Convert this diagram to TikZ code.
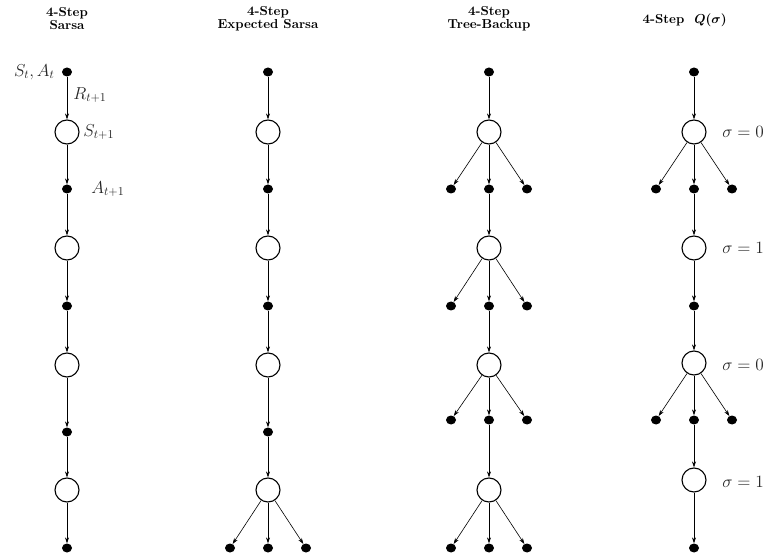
\documentclass[tikz,border=0pt]{standalone}
\usepackage{bm}
\usetikzlibrary{arrows.meta,shapes.geometric}
\begin{document}
\begin{tikzpicture}[x=1pt,y=-1pt,
  dotn/.style={ellipse,fill=black,minimum width=10pt,minimum height=9pt,inner sep=0pt},
  st/.style={circle,draw,line width=1.1pt,minimum size=24pt,inner sep=0pt},
  arr/.style={-{Stealth[length=6pt,width=4pt]},line width=0.6pt},
  ttl/.style={font=\bfseries,align=center,scale=1.3,transform shape},
  lab/.style={font=\Large,scale=1.2,transform shape,text=black!85,inner sep=1pt}]
\useasboundingbox (0,0) rectangle (780,556);
% titles
\node[ttl] (t1) at (67,19) {4-Step\\[-2pt]Sarsa};
\node[ttl] (t2) at (268,19) {4-Step\\[-2pt]Expected Sarsa};
\node[ttl] (t3) at (489,19) {4-Step\\[-2pt]Tree-Backup};
\node[ttl,anchor=west] (t4) at (638,20) {4-Step\ \ $\bm{Q(\sigma)}$};
% columns 1 and 2
\foreach \c/\x in {a/67,b/268}{
  \node[dotn] (\c1) at (\x,72) {};
  \node[st] (\c2) at (\x,132) {};
  \node[dotn] (\c3) at (\x,189) {};
  \node[st] (\c4) at (\x,248) {};
  \node[dotn] (\c5) at (\x,306) {};
  \node[st] (\c6) at (\x,365) {};
  \node[dotn] (\c7) at (\x,432) {};
  \node[st] (\c8) at (\x,490) {};
  \foreach \i/\j in {1/2,2/3,3/4,4/5,5/6,6/7,7/8} \draw[arr] (\c\i) -- (\c\j);
}
\node[dotn] (a9) at (67,548) {};
\draw[arr] (a8) -- (a9);
\node[dotn] (bL) at (230,548) {};
\node[dotn] (bM) at (268,548) {};
\node[dotn] (bR) at (306,548) {};
\foreach \k in {L,M,R} \draw[arr] (b8) -- (b\k);
% labels
\node[lab,anchor=east] (l1) at (56,72) {$S_t, A_t$};
\node[lab,anchor=west] (l2) at (72,95) {$R_{t+1}$};
\node[lab,anchor=west] (l3) at (82,132) {$S_{t+1}$};
\node[lab,anchor=west] (l4) at (90,189) {$A_{t+1}$};
% column 3
\node[dotn] (c0) at (489,72) {};
\node[st] (c1) at (489,132) {};
\node[st] (c2) at (489,248) {};
\node[st] (c3) at (489,365) {};
\node[st] (c4) at (489,490) {};
\draw[arr] (c0) -- (c1);
\foreach \s/\y in {1/189,2/306,3/420,4/548}{
  \node[dotn] (cL\s) at (451,\y) {};
  \node[dotn] (cM\s) at (489,\y) {};
  \node[dotn] (cR\s) at (527,\y) {};
  \foreach \k in {L,M,R} \draw[arr] (c\s) -- (c\k\s);
}
\draw[arr] (cM1) -- (c2);
\draw[arr] (cM2) -- (c3);
\draw[arr] (cM3) -- (c4);
% column 4
\node[dotn] (d0) at (694,72) {};
\node[st] (d1) at (694,132) {};
\node[st] (d2) at (694,248) {};
\node[dotn] (d3) at (694,306) {};
\node[st] (d4) at (694,363) {};
\node[st] (d5) at (694,480) {};
\node[dotn] (d6) at (694,548) {};
\foreach \s/\y in {1/189,4/420}{
  \node[dotn] (dL\s) at (656,\y) {};
  \node[dotn] (dM\s) at (694,\y) {};
  \node[dotn] (dR\s) at (732,\y) {};
  \foreach \k in {L,M,R} \draw[arr] (d\s) -- (d\k\s);
}
\draw[arr] (d0) -- (d1);
\draw[arr] (dM1) -- (d2);
\draw[arr] (d2) -- (d3);
\draw[arr] (d3) -- (d4);
\draw[arr] (dM4) -- (d5);
\draw[arr] (d5) -- (d6);
\node[lab,anchor=west] (s1) at (721,132) {$\sigma=0$};
\node[lab,anchor=west] (s2) at (721,248) {$\sigma=1$};
\node[lab,anchor=west] (s3) at (721,365) {$\sigma=0$};
\node[lab,anchor=west] (s4) at (721,482) {$\sigma=1$};
\end{tikzpicture}
\end{document}
